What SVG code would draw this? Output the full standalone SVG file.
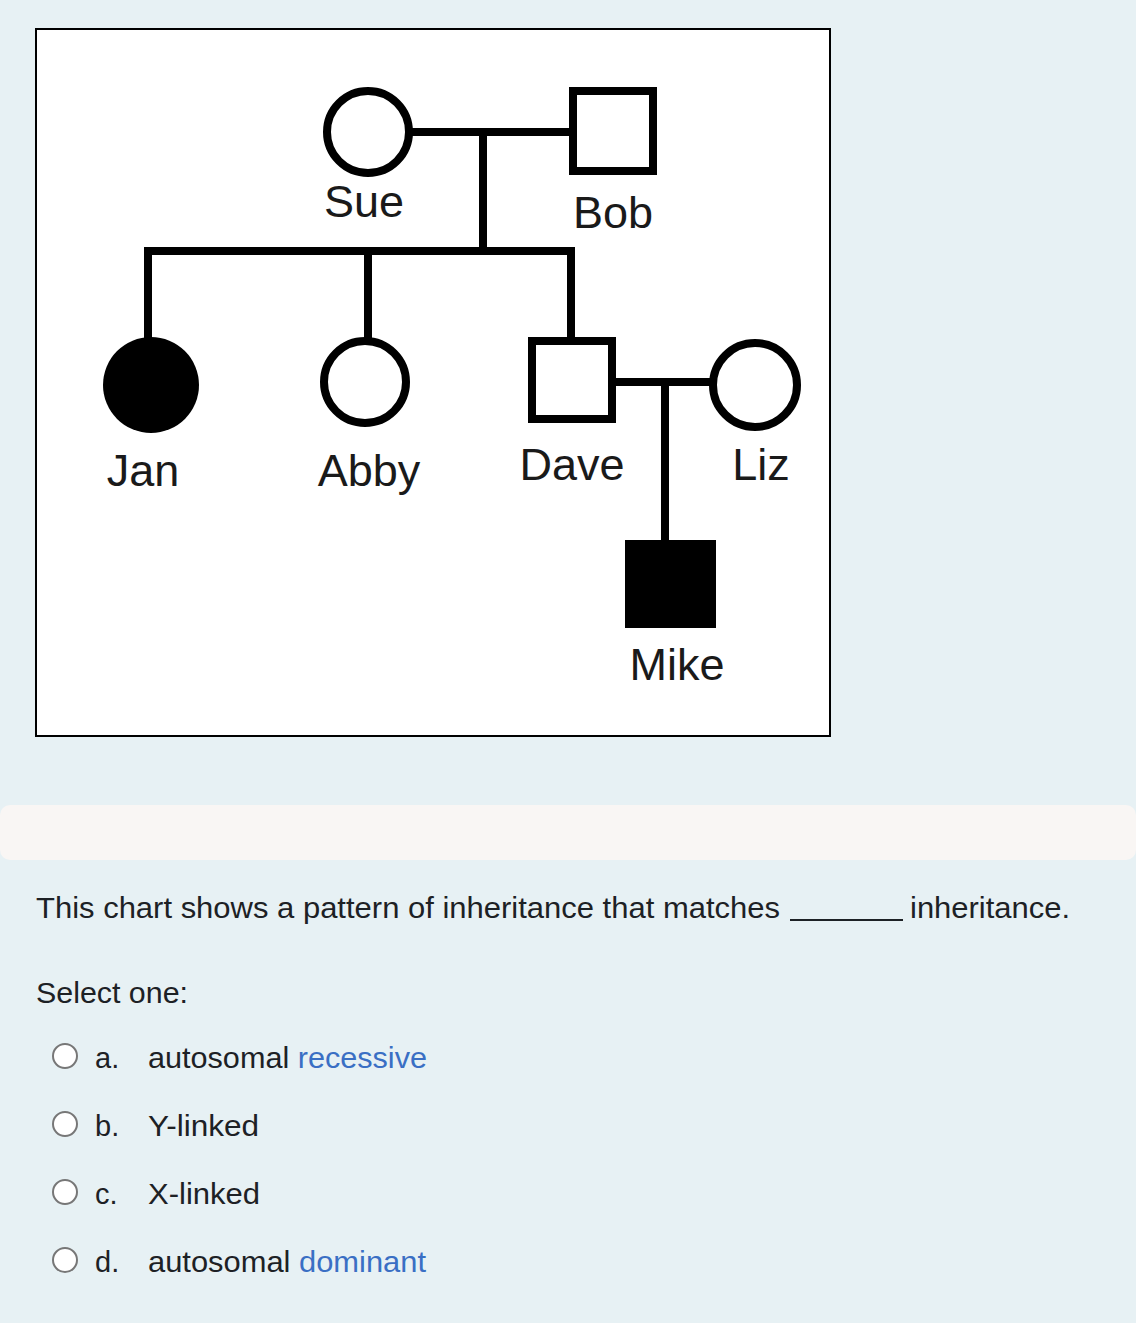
<svg xmlns="http://www.w3.org/2000/svg" width="1136" height="1323" viewBox="0 0 1136 1323">
<style>
.ln{stroke:#000;stroke-width:8;fill:none}
.sym{stroke:#000;stroke-width:8;fill:#fff}
.aff{fill:#000}
.lbl{font-family:"Liberation Sans",Arial,sans-serif;font-size:45px;fill:#1a1a1a;text-anchor:middle}
.q{font-family:"Liberation Sans",Arial,sans-serif;font-size:29px;fill:#1d2125}
.blue{fill:#3a6fc4}
.radio{fill:#fff;stroke:#777;stroke-width:2}
</style>
<rect width="1136" height="1323" fill="#e7f1f4"/>
<rect x="0" y="805" width="1136" height="55" rx="10" fill="#f9f6f4"/>
<rect x="36" y="29" width="794" height="707" fill="#fff" stroke="#000" stroke-width="2"/>
<g id="connectors">
<line class="ln" x1="412" y1="132" x2="573" y2="132"/>
<line class="ln" x1="483" y1="132" x2="483" y2="251"/>
<line class="ln" x1="144" y1="251" x2="575" y2="251"/>
<line class="ln" x1="148" y1="251" x2="148" y2="340"/>
<line class="ln" x1="368" y1="251" x2="368" y2="340"/>
<line class="ln" x1="571" y1="251" x2="571" y2="337"/>
<line class="ln" x1="616" y1="382" x2="712" y2="382"/>
<line class="ln" x1="665" y1="382" x2="665" y2="542"/>
</g>
<g id="sue"><circle class="sym" cx="368" cy="132" r="41"/><text class="lbl" x="364" y="217">Sue</text></g>
<g id="bob"><rect class="sym" x="573" y="91" width="80" height="80"/><text class="lbl" x="613" y="228">Bob</text></g>
<g id="jan"><circle class="aff" cx="151" cy="385" r="48"/><text class="lbl" x="143" y="486">Jan</text></g>
<g id="abby"><circle class="sym" cx="365" cy="382" r="41"/><text class="lbl" x="369" y="486">Abby</text></g>
<g id="dave"><rect class="sym" x="532" y="341" width="80" height="78"/><text class="lbl" x="572" y="480">Dave</text></g>
<g id="liz"><circle class="sym" cx="755" cy="385" r="42"/><text class="lbl" x="761" y="480">Liz</text></g>
<g id="mike"><rect class="aff" x="625" y="540" width="91" height="88"/><text class="lbl" x="677" y="680">Mike</text></g>
<text class="q" x="36" y="918" textLength="744" lengthAdjust="spacingAndGlyphs">This chart shows a pattern of inheritance that matches</text>
<line x1="790" y1="920" x2="903" y2="920" stroke="#1d2125" stroke-width="2"/>
<text class="q" x="910" y="918" textLength="160" lengthAdjust="spacingAndGlyphs">inheritance.</text>
<text class="q" x="36" y="1003" textLength="152" lengthAdjust="spacingAndGlyphs">Select one:</text>
<circle class="radio" cx="65" cy="1056" r="12"/>
<text class="q" x="95" y="1068">a.</text><text class="q" x="148" y="1068" textLength="279" lengthAdjust="spacingAndGlyphs">autosomal <tspan class="blue">recessive</tspan></text>
<circle class="radio" cx="65" cy="1124" r="12"/>
<text class="q" x="95" y="1136">b.</text><text class="q" x="148" y="1136" textLength="111" lengthAdjust="spacingAndGlyphs">Y-linked</text>
<circle class="radio" cx="65" cy="1192" r="12"/>
<text class="q" x="95" y="1204">c.</text><text class="q" x="148" y="1204" textLength="112" lengthAdjust="spacingAndGlyphs">X-linked</text>
<circle class="radio" cx="65" cy="1260" r="12"/>
<text class="q" x="95" y="1272">d.</text><text class="q" x="148" y="1272" textLength="278" lengthAdjust="spacingAndGlyphs">autosomal <tspan class="blue">dominant</tspan></text>
</svg>
